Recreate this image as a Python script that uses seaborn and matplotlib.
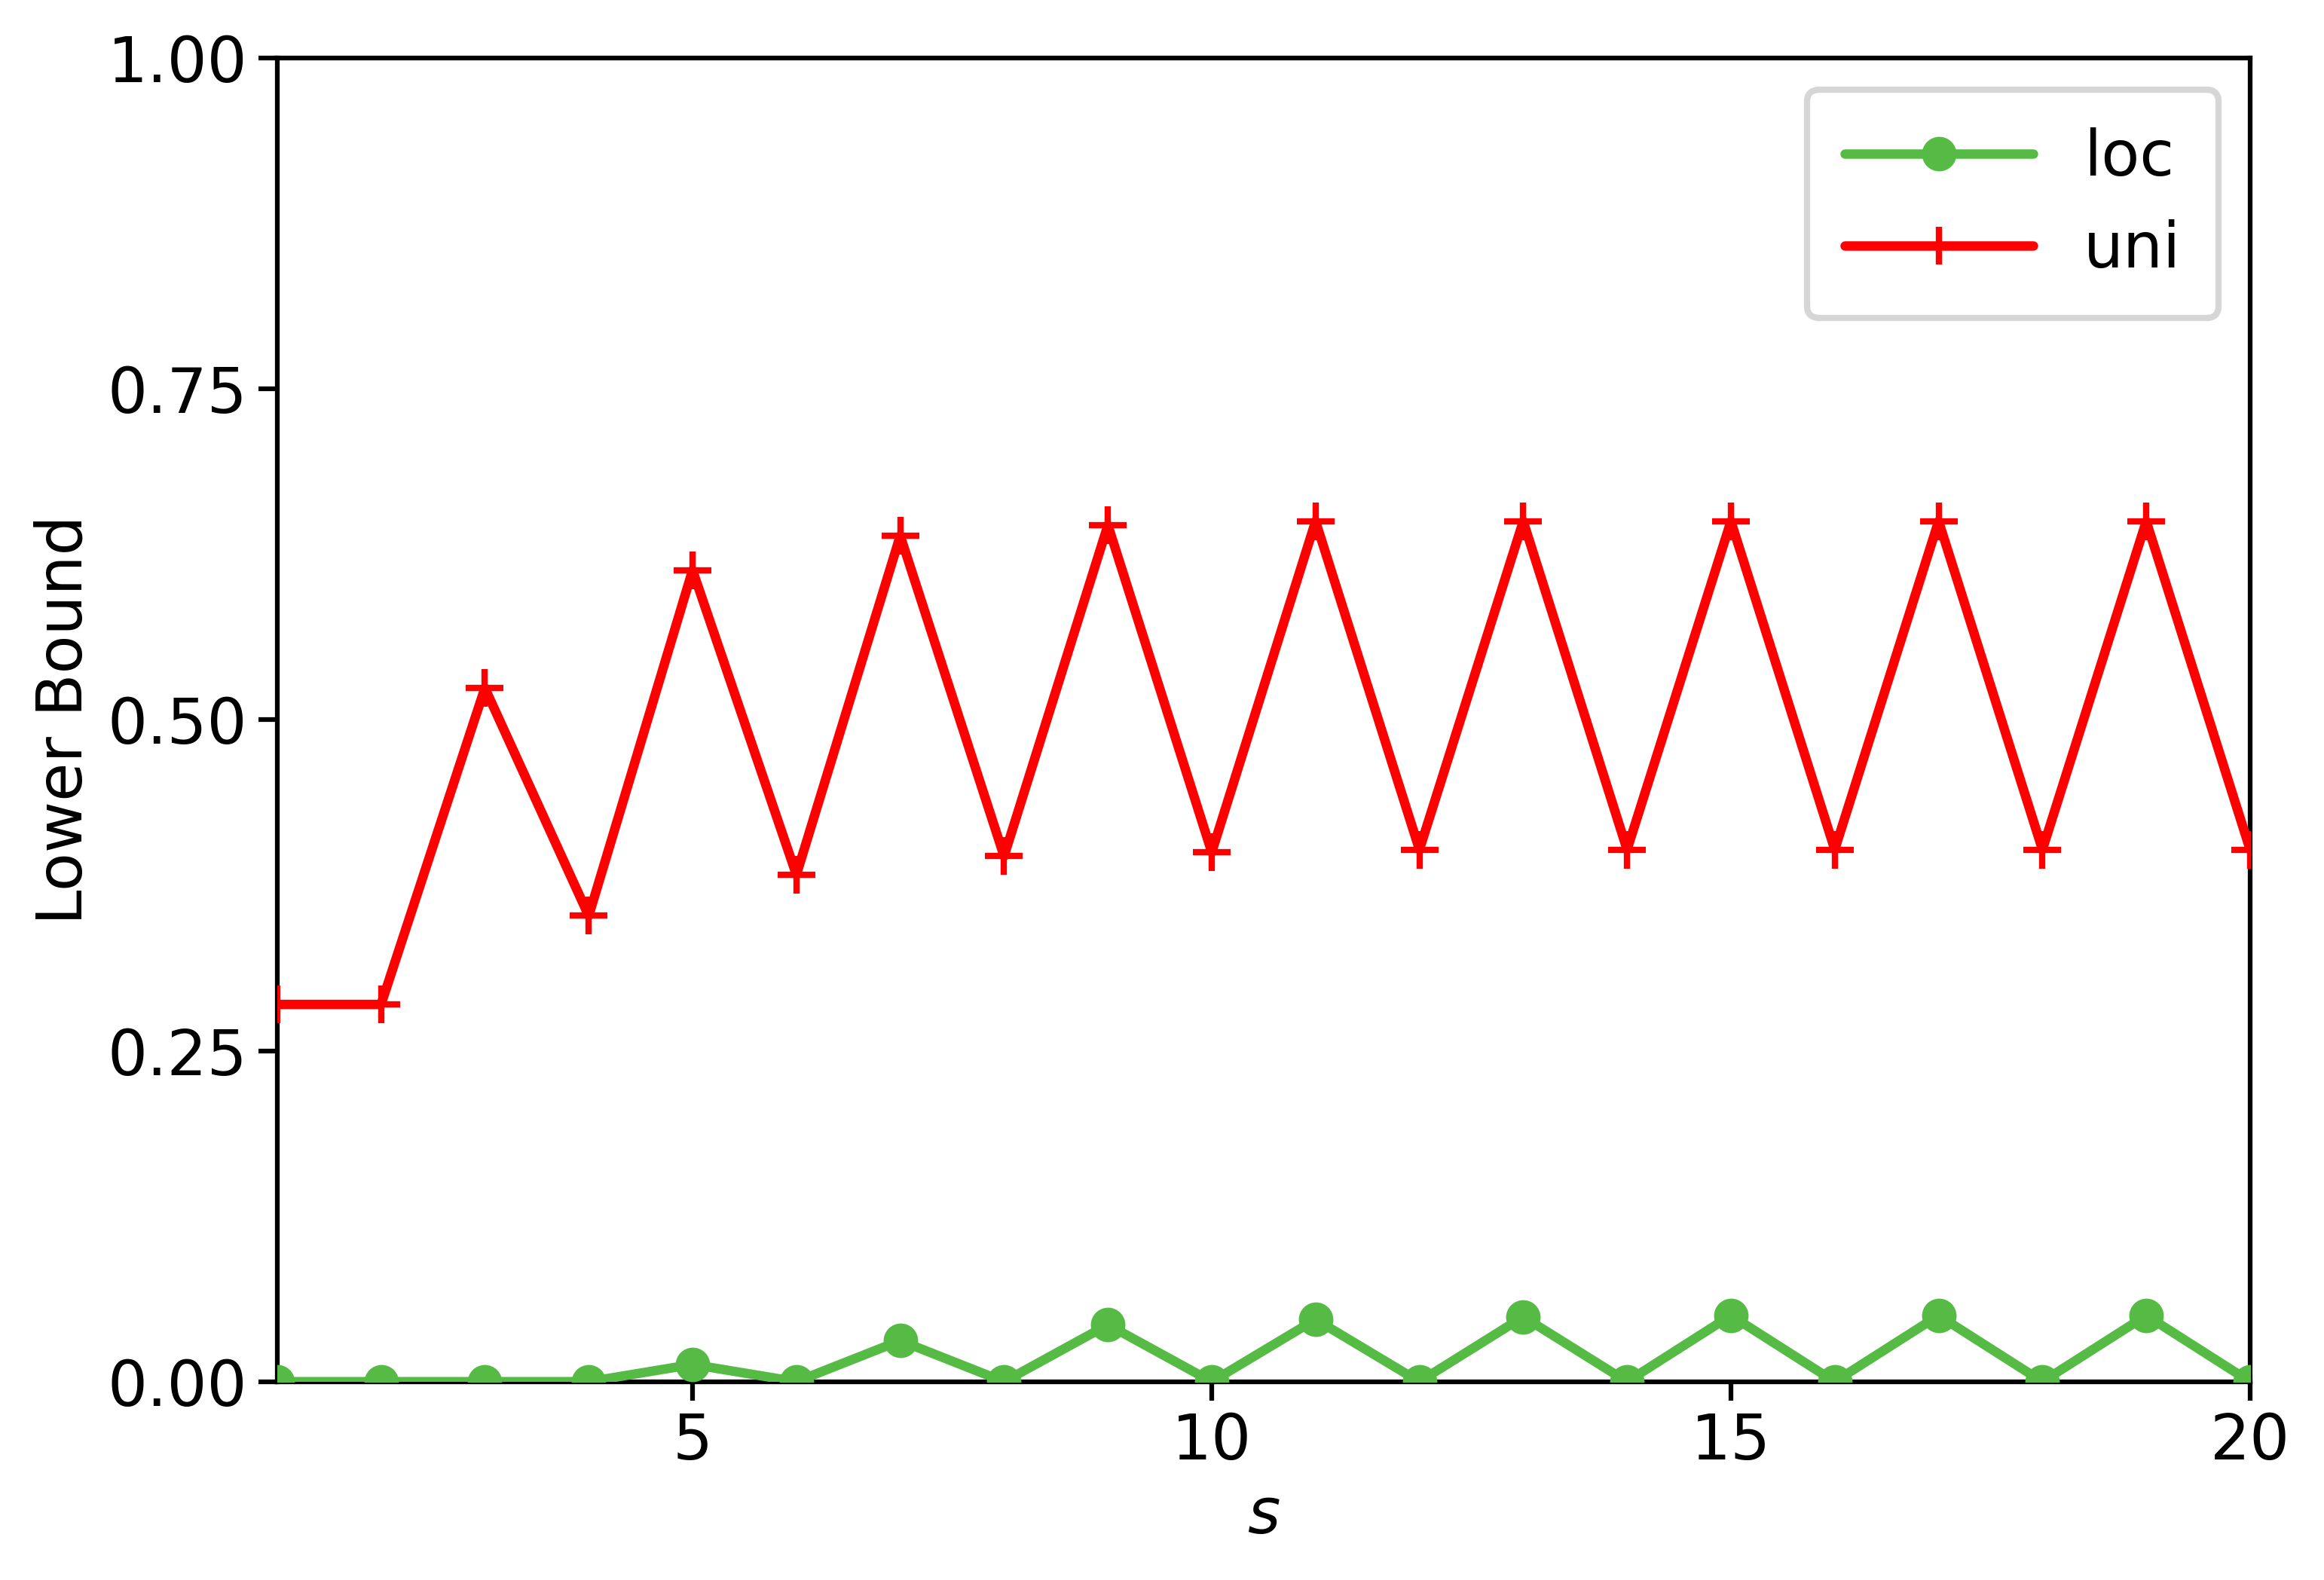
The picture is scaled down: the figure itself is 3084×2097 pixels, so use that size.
import matplotlib
matplotlib.use("Agg")
import matplotlib.pyplot as plt
import seaborn as sns
import pandas as pd

s = list(range(1, 21))
loc = [0, 0, 0, 0, 0.013, 0, 0.031, 0, 0.043, 0, 0.047, 0, 0.049, 0, 0.050, 0, 0.050, 0, 0.050, 0]
uni = [0.285, 0.285, 0.524, 0.352, 0.613, 0.383, 0.639, 0.397, 0.647, 0.400,
       0.650, 0.402, 0.650, 0.402, 0.650, 0.402, 0.650, 0.402, 0.650, 0.402]

sns.set_style("ticks")
plt.rcParams['font.family'] = ['DejaVu Sans']
plt.rcParams['text.color'] = 'black'
plt.rcParams['axes.labelcolor'] = 'black'
plt.rcParams['xtick.color'] = 'black'
plt.rcParams['ytick.color'] = 'black'
fig, ax = plt.subplots(figsize=(10.28, 6.99), dpi=300)
df = pd.DataFrame({"s": s, "loc": loc, "uni": uni})
sns.lineplot(data=df, x="s", y="loc", ax=ax, color="#55bb44", lw=3, marker="o",
             markersize=11, markeredgewidth=0, label="loc", zorder=3)
sns.lineplot(data=df, x="s", y="uni", ax=ax, color="#ff0000", lw=3, marker="+",
             markersize=12, markeredgewidth=2, markeredgecolor="#ff0000", label="uni", zorder=3)
ax.set_xlim(1, 20)
ax.set_ylim(0, 1)
ax.set_xticks([5, 10, 15, 20])
ax.set_yticks([0, 0.25, 0.5, 0.75, 1.0])
ax.set_yticklabels(["0.00", "0.25", "0.50", "0.75", "1.00"])
ax.tick_params(labelsize=20, width=1.5, length=6)
for sp in ax.spines.values():
    sp.set_linewidth(1.5)
    sp.set_color("black")
ax.set_xlabel("$s$", fontsize=20)
ax.set_ylabel("Lower Bound", fontsize=20)
leg = ax.legend(loc="upper right", fontsize=20, handlelength=3, borderpad=0.6)
leg.get_frame().set_edgecolor("#cccccc")
leg.get_frame().set_linewidth(2)
plt.tight_layout()
fig.savefig("out.png", dpi=300)
